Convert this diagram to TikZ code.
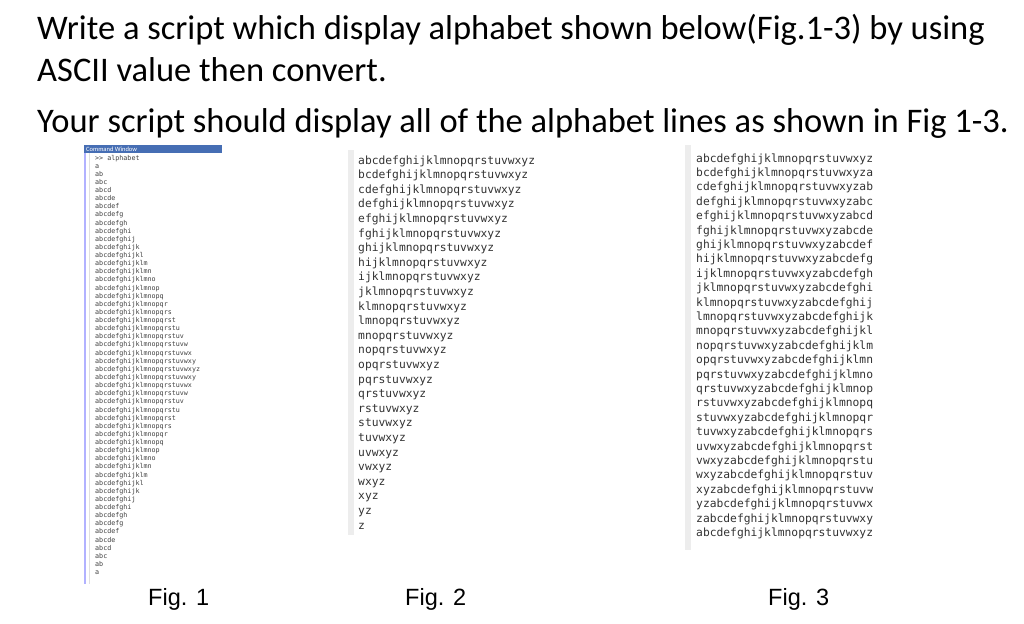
\documentclass[tikz,border=0pt]{standalone}
\usepackage{fontspec}
\setmainfont{Carlito}
\newfontfamily\capfont{Liberation Sans}
\newfontfamily\monofont{DejaVu Sans Mono}
\definecolor{cwblue}{RGB}{70,110,180}
\ExplSyntaxOn
\tl_const:Nn \c_abc_tl {abcdefghijklmnopqrstuvwxyz}
\NewExpandableDocumentCommand\abcrange{mm}{\str_range:Nnn \c_abc_tl {#1}{#2}}
\ExplSyntaxOff
\begin{document}
\begin{tikzpicture}[x=1pt,y=-1pt,
  head/.style={anchor=base west,inner sep=0pt,font=\fontsize{34.5}{36}\selectfont},
  figcap/.style={anchor=base west,inner sep=0pt,font=\capfont\fontsize{23.5}{25}\selectfont},
  small/.style={anchor=base west,inner sep=0pt,text=black!75,font=\monofont\fontsize{6.7}{7}\selectfont},
  big/.style={anchor=base west,inner sep=0pt,text=black!80,font=\monofont\fontsize{11.3}{12}\selectfont}]
\useasboundingbox (0,0) rectangle (1024,623);
\fill[white] (0,0) rectangle (1024,623);
\node[head] (h1) at (37,40) {Write a script which display alphabet shown below(Fig.1-3) by using};
\node[head] (h2) at (37,82) {ASCII value then convert.};
\node[head] (h3) at (37,132) {Your script should display all of the alphabet lines as shown in Fig 1-3.};
% Fig 1
\fill[cwblue] (84,145) rectangle (222,153);
\node[anchor=west,inner sep=0pt,text=white,font=\fontsize{6.5}{7}\selectfont] (cw) at (86,149.5) {Command Window};
\fill[blue!30] (84,153) rectangle (86,584);
\fill[black!12] (89,153) rectangle (90,584);
\node[small] (p) at (95,160) {>{}> alphabet};
\foreach \i in {1,...,26}{\node[small] (a\i) at ({95},{160+8.13*\i}) {\abcrange{1}{\i}};}
\foreach \i in {25,...,1}{\node[small] (b\i) at ({95},{160+8.13*(52-\i)}) {\abcrange{1}{\i}};}
\node[figcap] (c1) at (148,605) {Fig. 1};
% Fig 2
\fill[black!7] (348,150) rectangle (354,535);
\foreach \i in {1,...,26}{\node[big] (f\i) at ({358},{164+14.6*(\i-1)}) {\abcrange{\i}{26}};}
\node[figcap] (c2) at (405,605) {Fig. 2};
% Fig 3
\fill[black!7] (685,145) rectangle (691,550);
\foreach \i in {1,...,26}{\node[big] (g\i) at ({696},{162+14.4*(\i-1)}) {\abcrange{\i}{26}\abcrange{1}{\i-1}};}
\node[big] (g27) at ({696},{162+14.4*26}) {\abcrange{1}{26}};
\node[figcap] (c3) at (768,605) {Fig. 3};
\end{tikzpicture}
\end{document}
